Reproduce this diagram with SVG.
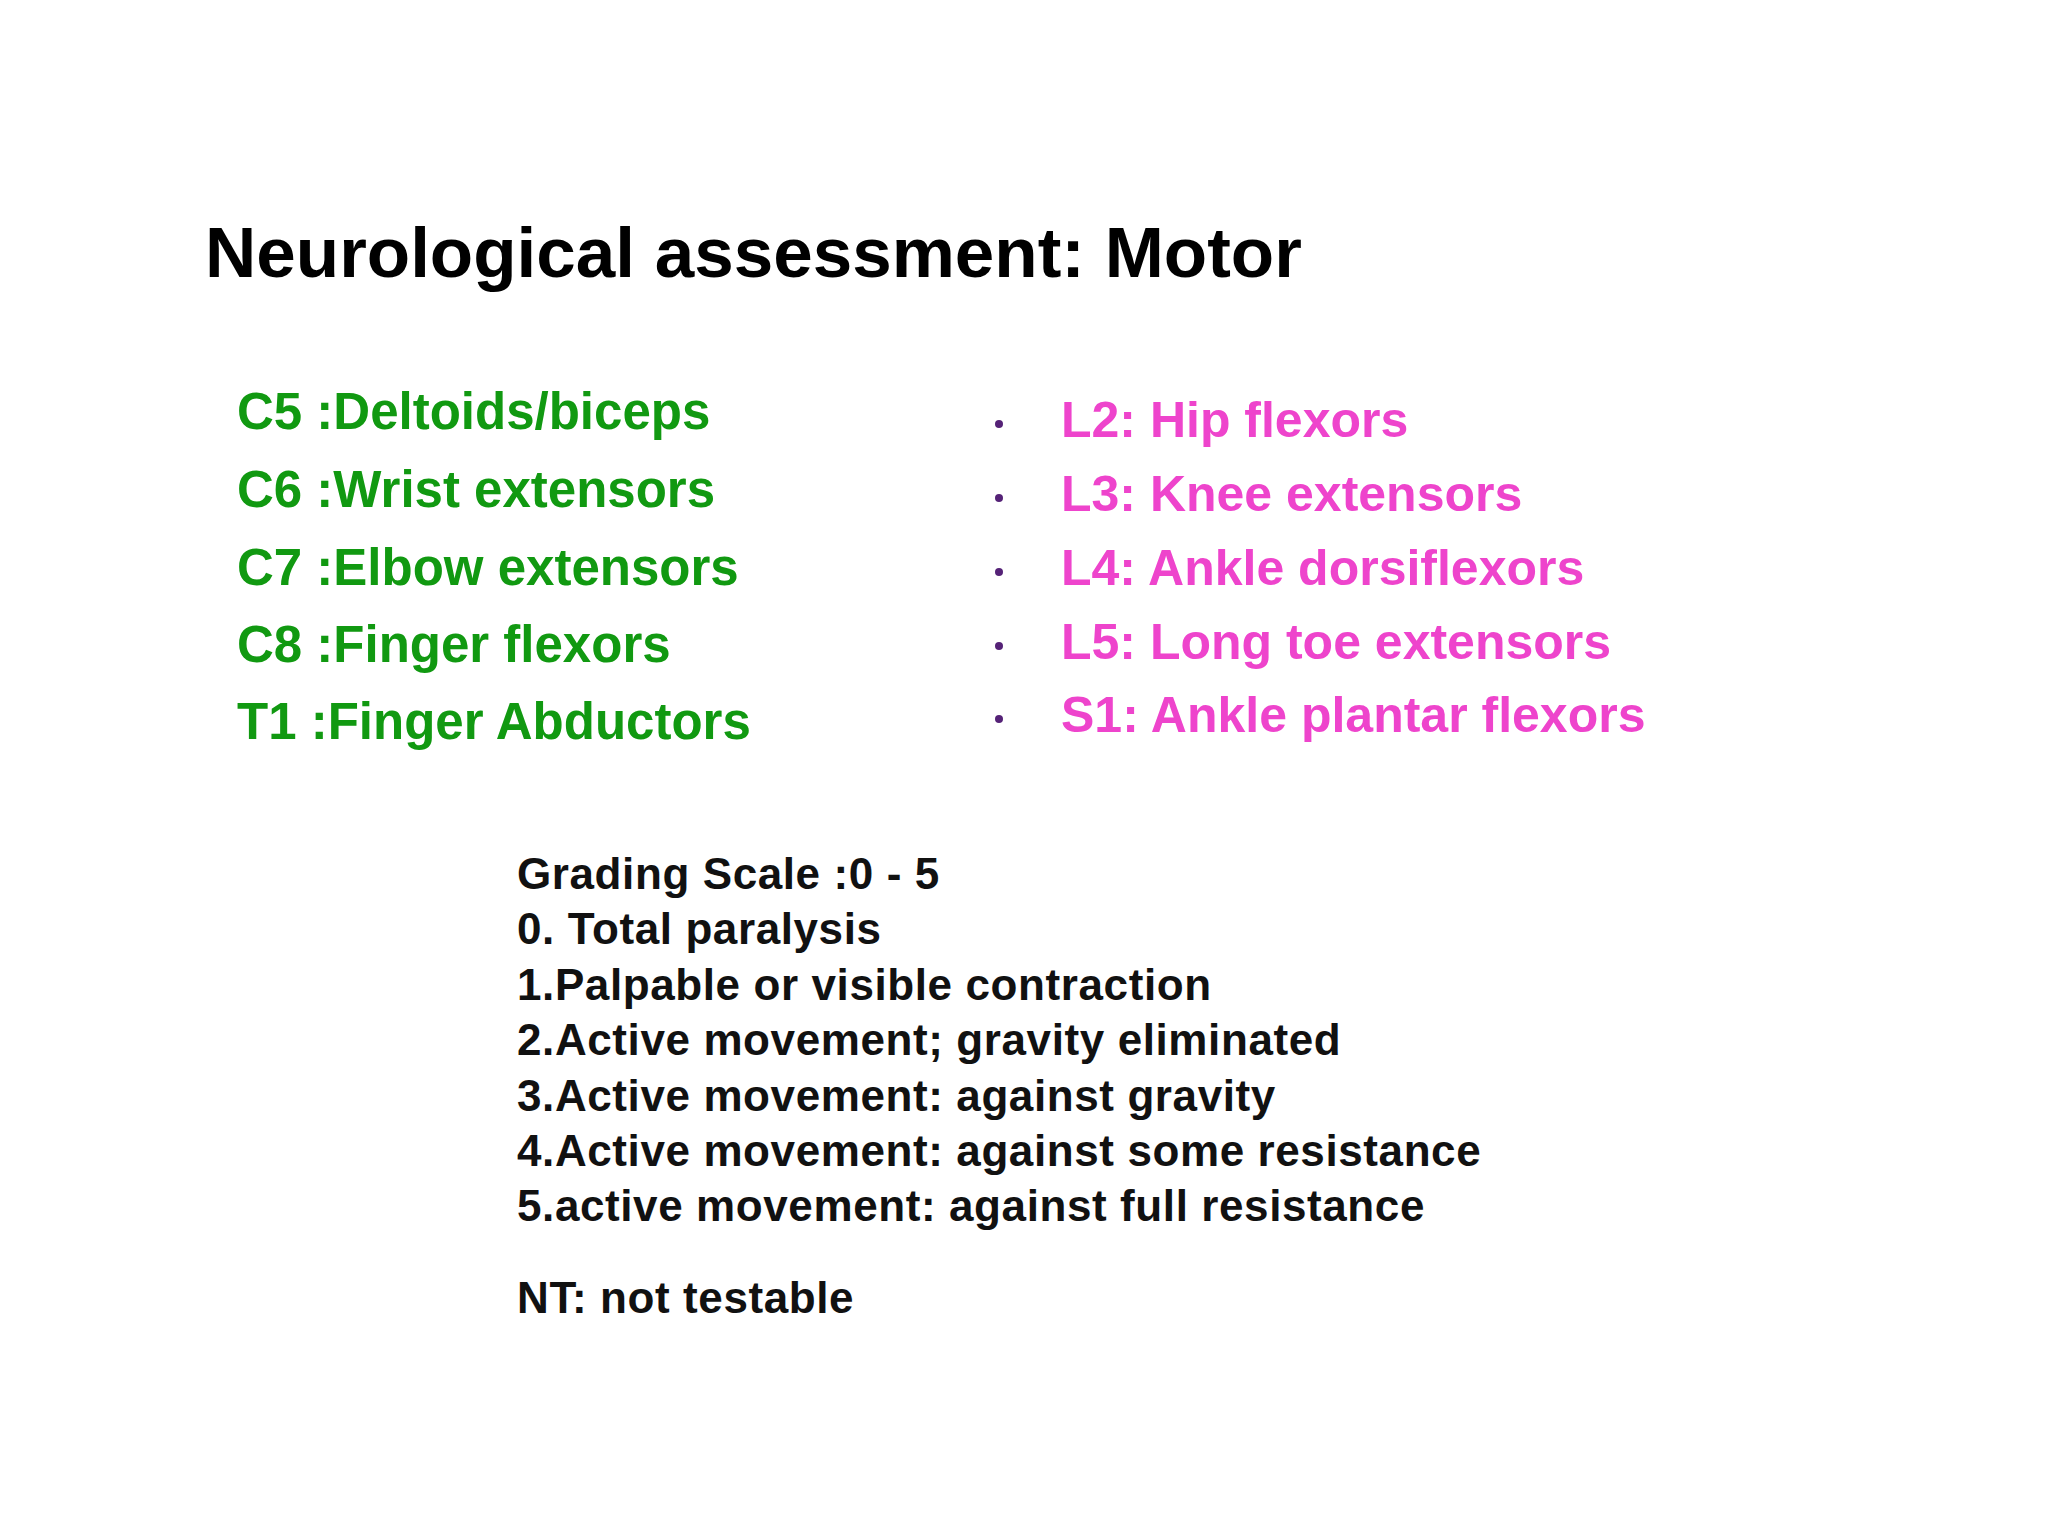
<svg xmlns="http://www.w3.org/2000/svg" width="2048" height="1536" viewBox="0 0 2048 1536">
<style>
text{font-family:"Liberation Sans",Arial,sans-serif;font-weight:bold}
.t{font-size:71px;fill:#000}
.g{font-size:51px;fill:#119911}
.p{font-size:50px;fill:#ee44cc}
.k{font-size:44px;fill:#111;letter-spacing:0.6px}
.b{fill:#552277}
</style>
<rect width="2048" height="1536" fill="#fff"/>
<g id="title"><text class="t" x="205" y="277">Neurological assessment: Motor</text></g>
<g id="upper">
<text class="g" x="237" y="429">C5 :Deltoids/biceps</text>
<text class="g" x="237" y="507">C6 :Wrist extensors</text>
<text class="g" x="237" y="585">C7 :Elbow extensors</text>
<text class="g" x="237" y="662">C8 :Finger flexors</text>
<text class="g" x="237" y="739">T1 :Finger Abductors</text>
</g>
<g id="lower">
<circle class="b" cx="999" cy="424" r="4"/>
<circle class="b" cx="999" cy="498" r="4"/>
<circle class="b" cx="999" cy="572" r="4"/>
<circle class="b" cx="999" cy="646" r="4"/>
<circle class="b" cx="999" cy="719" r="4"/>
<text class="p" x="1061" y="437">L2: Hip flexors</text>
<text class="p" x="1061" y="511">L3: Knee extensors</text>
<text class="p" x="1061" y="585">L4: Ankle dorsiflexors</text>
<text class="p" x="1061" y="659">L5: Long toe extensors</text>
<text class="p" x="1061" y="732">S1: Ankle plantar flexors</text>
</g>
<g id="grading">
<text class="k" x="517" y="889">Grading Scale :0 - 5</text>
<text class="k" x="517" y="944">0. Total paralysis</text>
<text class="k" x="517" y="1000">1.Palpable or visible contraction</text>
<text class="k" x="517" y="1055">2.Active movement; gravity eliminated</text>
<text class="k" x="517" y="1111">3.Active movement: against gravity</text>
<text class="k" x="517" y="1166">4.Active movement: against some resistance</text>
<text class="k" x="517" y="1221">5.active movement: against full resistance</text>
<text class="k" x="517" y="1313">NT: not testable</text>
</g>
</svg>
